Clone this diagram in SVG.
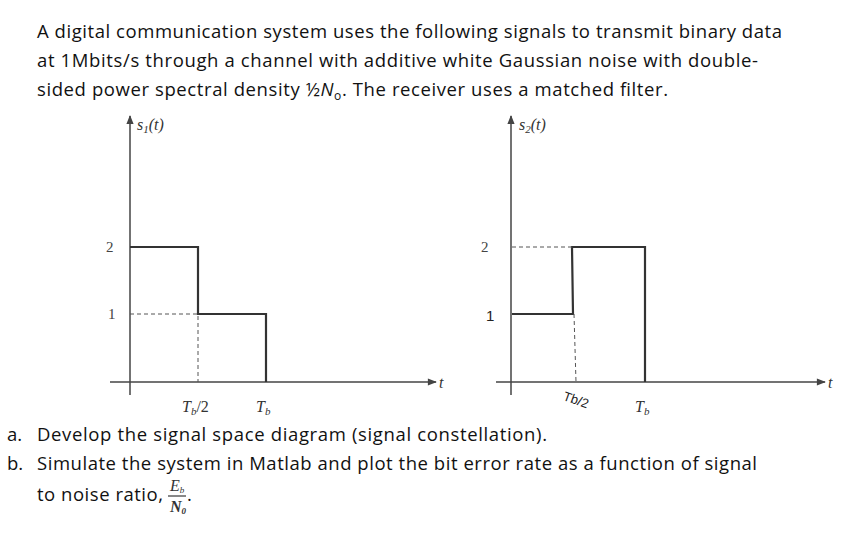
<svg xmlns="http://www.w3.org/2000/svg" width="853" height="543" viewBox="0 0 853 543">
<defs>
<marker id="ar" viewBox="0 0 10 10" refX="9" refY="5" markerWidth="8" markerHeight="6" orient="auto"><path d="M0,1 L10,5 L0,9 z" fill="#444"/></marker>
</defs>
<style>
.t{font-family:"Open Sans","Liberation Sans",sans-serif;font-size:18.5px;fill:#111}
.m{font-family:"Liberation Serif",serif;font-style:italic;font-size:16px;fill:#333}
.n{font-family:"Liberation Serif",serif;font-size:15px;fill:#444}
.ax{stroke:#444;stroke-width:1.5;fill:none}
.sig{stroke:#333;stroke-width:2.2;fill:none}
.d{stroke:#555;stroke-width:1;stroke-dasharray:4,3;fill:none}
</style>
<rect width="853" height="543" fill="#fff"/>
<g id="text">
<text class="t" x="37" y="38" textLength="745">A digital communication system uses the following signals to transmit binary data</text>
<text class="t" x="37" y="67" textLength="721">at 1Mbits/s through a channel with additive white Gaussian noise with double-</text>
<text class="t" x="37" y="96" textLength="631">sided power spectral density ½<tspan font-style="italic">N</tspan><tspan font-size="12" dy="4">o</tspan><tspan dy="-4">. The receiver uses a matched filter.</tspan></text>
<text class="t" x="7" y="441">a.</text>
<text class="t" x="37" y="441" textLength="510">Develop the signal space diagram (signal constellation).</text>
<text class="t" x="7" y="470">b.</text>
<text class="t" x="37" y="470" textLength="720">Simulate the system in Matlab and plot the bit error rate as a function of signal</text>
<text class="t" x="37" y="501" textLength="126">to noise ratio,</text>
<text class="m" x="170" y="491" font-size="12">E<tspan font-size="9" dy="2">b</tspan></text>
<line x1="168" y1="496" x2="186" y2="496" stroke="#111" stroke-width="1"/>
<text class="m" x="170" y="512" font-size="12" font-weight="bold">N<tspan font-size="9" dy="2">0</tspan></text>
<text class="t" x="187" y="501">.</text>
</g>
<g id="plot1">
<line class="ax" x1="130" y1="395" x2="130" y2="116" marker-end="url(#ar)"/>
<line class="ax" x1="110" y1="382" x2="436" y2="382" marker-end="url(#ar)"/>
<polyline class="sig" points="130,247 198,247 198,314 266,314 266,382"/>
<polyline class="d" points="130,314 198,314 198,382"/>
<text class="m" x="137" y="130">s<tspan font-size="11" dy="3">1</tspan><tspan dy="-3">(t)</tspan></text>
<text class="n" x="106" y="252">2</text>
<text class="n" x="108" y="319">1</text>
<text class="m" x="182" y="412">T<tspan font-size="11" dy="3">b</tspan><tspan dy="-3" font-style="normal">/2</tspan></text>
<text class="m" x="256" y="412">T<tspan font-size="11" dy="3">b</tspan></text>
<text class="m" x="439" y="388">t</text>
</g>
<g id="plot2">
<line class="ax" x1="511" y1="395" x2="511" y2="116" marker-end="url(#ar)"/>
<line class="ax" x1="496" y1="382" x2="825" y2="382" marker-end="url(#ar)"/>
<polyline class="sig" points="512,314 573,314 572,247 645,247 645,382" stroke-width="1.8"/>
<line class="d" x1="512" y1="247" x2="572" y2="247"/>
<line class="d" x1="574" y1="314" x2="576" y2="382" stroke-width="1.6" stroke-dasharray="5,6"/>
<text class="m" x="519" y="130">s<tspan font-size="11" dy="3">2</tspan><tspan dy="-3">(t)</tspan></text>
<text class="n" x="481" y="252">2</text>
<text x="486" y="321" font-family="Liberation Sans,sans-serif" font-size="15" fill="#222">1</text>
<text x="563" y="404" font-family="Liberation Sans,sans-serif" font-size="13" fill="#222" transform="rotate(20 575 400)">Tb/2</text>
<text class="m" x="635" y="412">T<tspan font-size="11" dy="3">b</tspan></text>
<text class="m" x="828" y="388">t</text>
</g>
</svg>
